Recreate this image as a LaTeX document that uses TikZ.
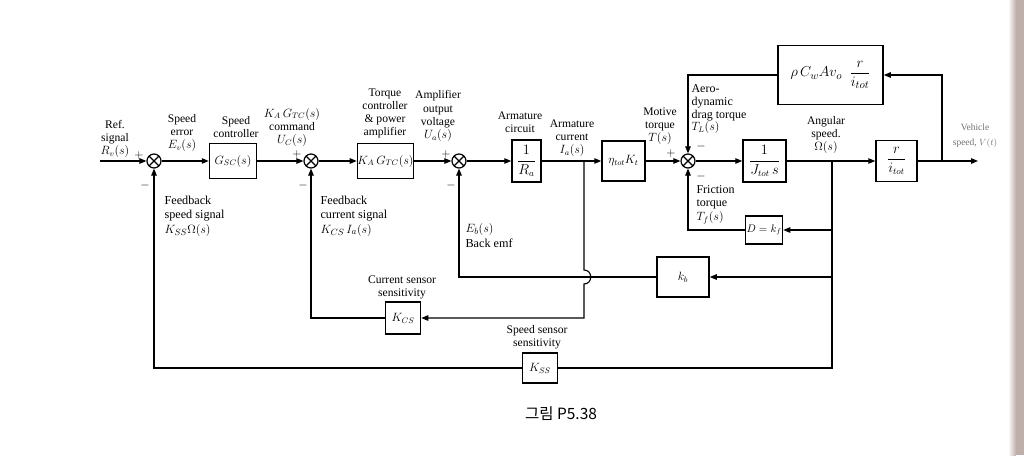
\documentclass[tikz,border=0pt]{standalone}
\usepackage{amsmath}
\usepackage{fontspec}
\setmainfont{Liberation Serif}
\newfontfamily\krfont{Noto Sans CJK KR}
\usetikzlibrary{arrows.meta,calc}
\definecolor{scanedge}{RGB}{190,175,170}
\begin{document}
\begin{tikzpicture}[x=1pt,y=-1pt,
  line width=1.1pt,
  arr/.style={-{Triangle[length=7pt,width=5.5pt]}},
  blk/.style={draw, line width=1.5pt, inner sep=1pt, font=\fontsize{12}{14}\selectfont},
  fblk/.style={blk, font=\fontsize{13.5}{15}\selectfont},
  sumnode/.style={circle, draw, line width=1.2pt, minimum size=14pt, inner sep=0pt,
    path picture={\draw[line width=1.2pt] (path picture bounding box.north west) -- (path picture bounding box.south east)
      (path picture bounding box.north east) -- (path picture bounding box.south west);}},
  lbl/.style={align=center, inner sep=0pt, font=\fontsize{11.6}{13.2}\selectfont},
  lbll/.style={align=left, inner sep=0pt, font=\fontsize{12.2}{14.5}\selectfont},
  sgn/.style={inner sep=0pt, font=\fontsize{12}{12}\selectfont}
]
\useasboundingbox (0,0) rectangle (1024,455);
\fill[white] (0,0) rectangle (1024,455);
\fill[left color=white, right color=scanedge] (1008,0) rectangle (1016,455);
\fill[scanedge] (1016,0) rectangle (1024,455);

% main path nodes
\coordinate (rin) at (100,161);
\node[sumnode] (s1) at (154,161) {};
\node[blk, minimum width=47pt, minimum height=35pt] (gsc) at (233,161) {$G_{SC}(s)$};
\node[sumnode] (s2) at (311,161) {};
\node[blk, minimum width=55pt, minimum height=35pt, inner sep=0pt] (ka) at (385.5,161) {$K_A\,G_{TC}(s)$};
\node[sumnode] (s3) at (459,161) {};
\node[fblk, minimum width=29pt, minimum height=42pt] (ra) at (526.5,161) {$\dfrac{1}{R_a}$};
\coordinate (ia) at (584,161);
\node[blk, minimum width=43pt, minimum height=40pt] (eta) at (623.5,161) {$\eta_{tot}K_t$};
\node[sumnode] (s4) at (688,161) {};
\node[fblk, minimum width=43pt, minimum height=42pt] (js) at (764.5,161) {$\dfrac{1}{J_{tot}\,s}$};
\coordinate (wb) at (832,161);
\node[fblk, minimum width=41pt, minimum height=41pt] (ri) at (896.5,161) {$\dfrac{r}{i_{tot}}$};
\coordinate (vb) at (942,161);
\coordinate (vout) at (978,161);
\node[blk, minimum width=105pt, minimum height=59pt, font=\fontsize{15}{17}\selectfont] (rho) at (830.5,75) {$\rho\, C_w A v_o\ \ \dfrac{r}{i_{tot}}$};
\node[blk, minimum width=37pt, minimum height=28pt, inner sep=0pt, font=\fontsize{10.5}{12}\selectfont] (dkf) at (764,230) {$D=k_f$};
\node[blk, minimum width=52pt, minimum height=40pt] (kb) at (683,277) {$k_b$};
\node[blk, minimum width=35pt, minimum height=32pt] (kcs) at (403,318) {$K_{CS}$};
\node[blk, minimum width=35pt, minimum height=30pt] (kss) at (540,368) {$K_{SS}$};

% forward connectors
\draw[arr] (rin) -- (s1);
\draw[arr] (s1) -- (gsc);
\draw[arr] (gsc) -- (s2);
\draw[arr] (s2) -- (ka);
\draw[arr] (ka) -- (s3);
\draw[arr] (s3) -- (ra);
\draw[arr] (ra) -- (eta);
\draw[arr] (eta) -- (s4);
\draw[arr] (s4) -- (js);
\draw[arr] (js) -- (ri);
\draw[arr] (ri) -- (vout);

% feedback connectors
\draw[arr] (vb) |- (rho.east);
\draw[arr] (rho.west) -| (s4.north);
\draw (wb) -- (wb |- kss) -- (kss.east);
\draw[arr] (wb |- dkf) -- (dkf.east);
\draw[arr] (wb |- kb) -- (kb.east);
\draw[arr] (dkf.west) -| (s4.south);
\draw[arr] (kb.west) -| (s3.south);
\draw[arr] (ia) -- (584,270) .. controls (593,270) and (593,284) .. (584,284) |- (kcs.east);
\draw[arr] (kcs.west) -| (s2.south);
\draw[arr] (kss.west) -| (s1.south);

% signs
\node[sgn] (p1) at (139,155) {$+$};
\node[sgn] (m1) at (145,185) {$-$};
\node[sgn] (p2) at (297,154) {$+$};
\node[sgn] (m2) at (303,185) {$-$};
\node[sgn] (p3) at (446,154) {$+$};
\node[sgn] (m3) at (451,185) {$-$};
\node[sgn] (p4) at (671,153) {$+$};
\node[sgn] (m4a) at (701,146) {$-$};
\node[sgn] (m4b) at (701,176) {$-$};

% labels
\node[lbl, anchor=south] (lref) at (115,158) {Ref.\\signal\\$R_v(s)$};
\node[lbl, anchor=south] (lerr) at (182,152) {Speed\\error\\$E_v(s)$};
\node[lbl, anchor=south] (lsc) at (236,138) {Speed\\controller};
\node[lbl, anchor=south] (lcmd) at (292,147) {$K_A\,G_{TC}(s)$\\command\\$U_C(s)$};
\node[lbl, anchor=south] (ltc) at (385,139) {Torque\\controller\\\& power\\amplifier};
\node[lbl, anchor=south] (lamp) at (438,142) {Amplifier\\output\\voltage\\$U_a(s)$};
\node[lbl, anchor=south] (larm) at (520,133) {Armature\\circuit};
\node[lbl, anchor=south] (lcur) at (572,157) {Armature\\current\\$I_a(s)$};
\node[lbl, anchor=south] (lmot) at (660,145) {Motive\\torque\\$T(s)$};
\node[lbll, anchor=north west, font=\fontsize{12}{12.8}\selectfont] (laero) at (691,84) {Aero-\\dynamic\\drag torque\\$T_L(s)$};
\node[lbl, anchor=south] (lang) at (826,154) {Angular\\speed.\\$\Omega(s)$};
\node[lbl, anchor=south, text=black!55, font=\fontsize{9.5}{15}\selectfont] (lveh) at (975,148) {Vehicle\\speed, $V(t)$};
\node[lbll, anchor=north west, font=\fontsize{12}{13.5}\selectfont] (lfric) at (696,185) {Friction\\torque\\$T_f(s)$};
\node[lbll, anchor=north west] (lfbs) at (164,195) {Feedback\\speed signal\\$K_{SS}\Omega(s)$};
\node[lbll, anchor=north west] (lfbc) at (320,195) {Feedback\\current signal\\$K_{CS}\,I_a(s)$};
\node[lbll, anchor=north west] (lemf) at (465,223) {$E_b(s)$\\Back emf};
\node[lbl, anchor=south] (lcss) at (402,300) {Current sensor\\sensitivity};
\node[lbl, anchor=south] (lsss) at (537,350) {Speed sensor\\sensitivity};
\node[inner sep=0pt, font=\krfont\fontsize{15.5}{17}\selectfont] (cap) at (561,414) {그림 P5.38};
\end{tikzpicture}
\end{document}
